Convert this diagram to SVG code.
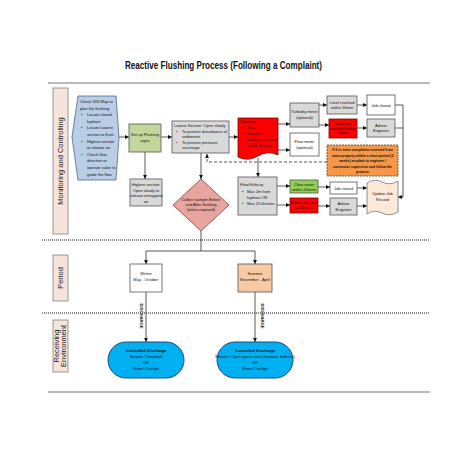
<svg xmlns="http://www.w3.org/2000/svg" width="453" height="453" viewBox="0 0 453 453">
<defs>
<marker id="a" markerWidth="5" markerHeight="5" refX="4" refY="2.5" orient="auto" markerUnits="userSpaceOnUse"><path d="M0,0.6 L4,2.5 L0,4.4Z" fill="#111"/></marker>
</defs>
<style>
text{font-family:"Liberation Sans",Arial,sans-serif;fill:#111}
.t{font-size:4px}
.c{text-anchor:middle}
.lane{fill:#f6e4da;stroke:#808080;stroke-width:0.8}
.ll{font-size:7.5px;text-anchor:middle;fill:#222}
.gray{fill:#d9d9d9;stroke:#555;stroke-width:0.8}
.white{fill:#fff;stroke:#555;stroke-width:0.8}
.red{fill:#ff0000;stroke:#7f0000;stroke-width:0.8}
.cn path{fill:none;stroke:#111;stroke-width:0.7}
</style>
<rect width="453" height="453" fill="#fff"/>
<text x="125" y="69" font-size="10" font-weight="bold" textLength="197" lengthAdjust="spacingAndGlyphs">Reactive Flushing Process (Following a Complaint)</text>
<line x1="48" y1="83" x2="430" y2="83" stroke="#777" stroke-width="1"/>
<line x1="48" y1="392" x2="430" y2="392" stroke="#777" stroke-width="1"/>
<line x1="42" y1="240" x2="430" y2="240" stroke="#111" stroke-width="1.2" stroke-dasharray="1 1"/>
<line x1="42" y1="313" x2="430" y2="313" stroke="#111" stroke-width="1.2" stroke-dasharray="1 1"/>

<g id="lane-monitoring"><rect class="lane" x="53" y="88" width="15" height="146"/><text class="ll" transform="translate(63,161) rotate(-90)">Monitoring and Controlling</text></g>
<g id="lane-period"><rect class="lane" x="53" y="255" width="15" height="46"/><text class="ll" transform="translate(63,278) rotate(-90)">Period</text></g>
<g id="lane-receiving"><rect class="lane" x="53" y="320" width="15" height="52"/><text class="ll" transform="translate(59,346) rotate(-90)">Receiving</text><text class="ll" transform="translate(66,346) rotate(-90)">Environment</text></g>

<g class="cn" id="connectors">
<path d="M119,137 H129" marker-end="url(#a)"/>
<path d="M161,137 H172" marker-end="url(#a)"/>
<path d="M145,152 V179" marker-end="url(#a)"/>
<path d="M229,137 H238" marker-end="url(#a)"/>
<path d="M201,153 V179" marker-end="url(#a)"/>
<path d="M278,124 H290" marker-end="url(#a)"/>
<path d="M278,150 H290" marker-end="url(#a)"/>
<path d="M258,158 V177" marker-end="url(#a)"/>
<path d="M319,105 H327" marker-end="url(#a)"/>
<path d="M319,125 H329" marker-end="url(#a)"/>
<path d="M357,105 H367" marker-end="url(#a)"/>
<path d="M357,128 H367" marker-end="url(#a)"/>
<path d="M395,105 H403 V197 H398" marker-end="url(#a)"/>
<path d="M395,128 H403"/>
<path d="M327,162 H207 V154" stroke-dasharray="3 2" marker-end="url(#a)"/>
<path d="M277,186 H290" marker-end="url(#a)"/>
<path d="M277,205 H290" marker-end="url(#a)"/>
<path d="M318,187 H330" marker-end="url(#a)"/>
<path d="M318,206 H330" marker-end="url(#a)"/>
<path d="M357,188 H367" marker-end="url(#a)"/>
<path d="M357,206 H367" marker-end="url(#a)"/>
<path d="M201,231 V251"/>
<path d="M146,251 H255"/>
<path d="M146,251 V264" marker-end="url(#a)"/>
<path d="M255,251 V264" marker-end="url(#a)"/>
<path d="M146,292 V342" marker-end="url(#a)"/>
<path d="M255,292 V342" marker-end="url(#a)"/>
<text class="c" font-size="4.2" font-weight="bold" transform="translate(140,316) rotate(90)">DISCHARGE</text>
<text class="c" font-size="4.2" font-weight="bold" transform="translate(261,316) rotate(90)">DISCHARGE</text>
</g>

<g id="check-gis">
<path d="M78,96 H116 L119,137 L116,180 H78 L72,137 Z" fill="#b9cde5" stroke="#4a6a8a" stroke-width="0.8"/>
<g class="t">
<text x="80" y="103">Check GIS Map to</text>
<text x="80" y="109.6">plan the flushing:</text>
<text x="81" y="116.2">•</text><text x="87" y="116.2">Locate closed</text>
<text x="87" y="122.8">hydrant</text>
<text x="81" y="129.4">•</text><text x="87" y="129.4">Locate Lowest</text>
<text x="87" y="136">section to flush</text>
<text x="81" y="142.6">•</text><text x="87" y="142.6">Highest section</text>
<text x="87" y="149.2">to release air</text>
<text x="81" y="155.8">•</text><text x="87" y="155.8">Check flow</text>
<text x="87" y="162.4">direction or</text>
<text x="87" y="169">operate valve to</text>
<text x="87" y="175.6">guide the flow</text>
</g></g>

<g id="setup-signs"><rect x="129" y="124" width="32" height="28" fill="#c3d69b" stroke="#555" stroke-width="0.8"/>
<text class="t c" x="145" y="136">Set up Flushing</text><text class="t c" x="145" y="142">signs</text></g>

<g id="highest-section"><rect class="gray" x="130" y="179" width="32" height="27"/>
<text class="t c" x="146" y="186">Highest section:</text><text class="t c" x="146" y="191.5">Open slowly to</text><text class="t c" x="146" y="197">release entrapped</text><text class="t c" x="146" y="202.5">air</text></g>

<g id="lowest-section"><rect class="gray" x="172" y="121" width="57" height="32"/>
<text class="t" x="174" y="127">Lowest Section: Open slowly</text>
<text class="t" x="176" y="133">•</text><text class="t" x="182" y="133">To prevent disturbance of</text>
<text class="t" x="182" y="138">sediments</text>
<text class="t" x="176" y="144">•</text><text class="t" x="182" y="144">To prevent pressure</text>
<text class="t" x="182" y="149">surcharge</text></g>

<g id="collect-sample"><path d="M201,179 L229,205 L201,231 L173,205 Z" fill="#e6a59e" stroke="#943634" stroke-width="0.8"/>
<text class="t c" x="201" y="201">Collect sample Before</text><text class="t c" x="201" y="206">and After flushing</text><text class="t c" x="201" y="211">(when required)</text></g>

<g id="observe"><path d="M238,118 H278 V155 Q268,150 258,156 Q248,162 238,157 Z" class="red"/>
<text class="t" x="240" y="123">Observe:</text>
<text class="t" x="242" y="129">•</text><text class="t" x="247" y="129">Time</text>
<text class="t" x="242" y="135">•</text><text class="t" x="247" y="135">Duration</text>
<text class="t" x="242" y="141">•</text><text class="t" x="247" y="141">Sediment (colour,</text>
<text class="t" x="247" y="146.5">smell, debris)</text></g>

<g id="turbidity"><rect class="gray" x="290" y="103" width="29" height="24"/>
<text class="t c" x="304.5" y="113">Turbidity meter</text><text class="t c" x="304.5" y="119">(optional)</text></g>
<g id="flow-meter"><rect class="white" x="290" y="133" width="29" height="23"/>
<text class="t c" x="304.5" y="143">Flow meter</text><text class="t c" x="304.5" y="149">(optional)</text></g>

<g id="level-reached"><rect class="gray" x="327" y="96" width="30" height="18"/>
<text class="t c" x="342" y="103.5">Level reached</text><text class="t c" x="342" y="109">within 30min</text></g>
<g id="job-closed-1"><rect class="white" x="367" y="95" width="28" height="20"/><text class="t c" x="381" y="106.5">Job closed</text></g>
<g id="level-not-reached"><rect class="red" x="329" y="119" width="28" height="19"/>
<text class="t c" x="343" y="125">Level not</text><text class="t c" x="343" y="129.5">reached within</text><text class="t c" x="343" y="134">30min</text></g>
<g id="advise-engineer-1"><rect class="gray" x="367" y="119" width="28" height="18"/>
<text class="t c" x="381" y="126.5">Advise</text><text class="t c" x="381" y="132">Engineer</text></g>

<g id="escalate"><rect x="327" y="145" width="71" height="31" fill="#f79646" stroke="#5a3a1a" stroke-width="0.8" stroke-dasharray="2 1"/>
<g font-size="3.4" font-weight="bold" text-anchor="middle">
<text x="362.5" y="151">If 2 or more complaints received from</text>
<text x="362.5" y="156.5">same property within a short period (2</text>
<text x="362.5" y="162">weeks) escalate to engineer /</text>
<text x="362.5" y="167.5">contractor supervisor and follow the</text>
<text x="362.5" y="173">process</text></g></g>

<g id="flow-velocity"><rect class="gray" x="238" y="177" width="39" height="38"/>
<text class="t" x="240" y="186">Flow/Velocity</text>
<text class="t" x="242" y="193">•</text><text class="t" x="247" y="193">Max 2m from</text>
<text class="t" x="247" y="198.5">hydrant OR</text>
<text class="t" x="242" y="205">•</text><text class="t" x="247" y="205">Max 25 litre/sec</text></g>

<g id="clear-water"><rect x="290" y="180" width="28" height="13" fill="#92d050" stroke="#555" stroke-width="0.8"/>
<text class="t c" x="304" y="185.5">Clear water</text><text class="t c" x="304" y="190.5">within 20mins</text></g>
<g id="not-clear"><rect class="red" x="290" y="198" width="28" height="15"/>
<text class="t c" x="304" y="204">Water not clear</text><text class="t c" x="304" y="209">in 20mins</text></g>
<g id="job-closed-2"><rect class="white" x="330" y="182" width="27" height="12"/><text class="t c" x="343.5" y="189.5">Job closed</text></g>
<g id="advise-engineer-2"><rect class="gray" x="330" y="198" width="27" height="17"/>
<text class="t c" x="343.5" y="205">Advise</text><text class="t c" x="343.5" y="210.5">Engineer</text></g>
<g id="update-record"><path d="M367,183 Q374,178 382,182 Q390,186 398,181 V212 Q390,217 382,213 Q374,209 367,214 Z" fill="#fde9d9" stroke="#777" stroke-width="0.8"/>
<text class="t c" x="382.5" y="195">Update Job</text><text class="t c" x="382.5" y="200.5">Record</text></g>

<g id="winter"><rect class="white" x="130" y="264" width="32" height="28"/>
<text class="t c" x="146" y="275">Winter</text><text class="t c" x="146" y="281">May - October</text></g>
<g id="summer"><rect x="238" y="264" width="34" height="28" fill="#f7c9a4" stroke="#555" stroke-width="0.8"/>
<text class="t c" x="255" y="275">Summer</text><text class="t c" x="255" y="281">November - April</text></g>

<g id="discharge-winter"><rect x="108" y="342" width="76" height="36" rx="18" fill="#00b0f0" stroke="#1f497d" stroke-width="1"/>
<text class="t c" x="146" y="352" font-weight="bold">Controlled Discharge</text>
<text class="t c" x="146" y="358">Stream / Overland</text>
<text class="t c" x="146" y="364">OR</text>
<text class="t c" x="146" y="370">Street Catchpit</text></g>
<g id="discharge-summer"><rect x="217" y="342" width="76" height="36" rx="18" fill="#00b0f0" stroke="#1f497d" stroke-width="1"/>
<text class="t c" x="255" y="352" font-weight="bold">Controlled Discharge</text>
<text class="t c" x="255" y="358">Stream / Open space area (reserve, field etc)</text>
<text class="t c" x="255" y="364">OR</text>
<text class="t c" x="255" y="370">Street Catchpit</text></g>
</svg>
